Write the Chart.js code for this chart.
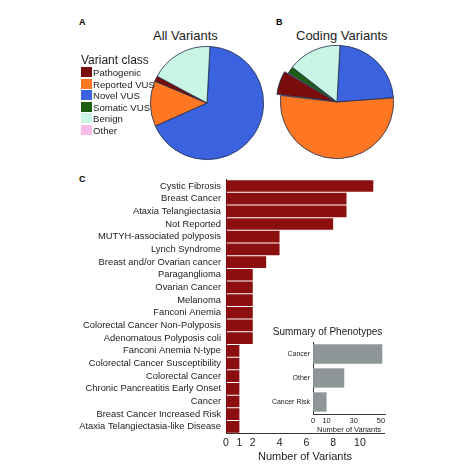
<!DOCTYPE html>
<html><head><meta charset="utf-8">
<script src="https://cdn.jsdelivr.net/npm/chart.js@4"></script>
<style>
body{margin:0;background:#fff;font-family:"Liberation Sans",Arial,sans-serif;}
.abs{position:absolute;white-space:nowrap;}
canvas{position:absolute;}
.lg{z-index:5;}
.lg div{font-size:9.6px;height:11.5px;line-height:11.5px;color:#222;}
.lg span{display:inline-block;width:11px;height:10px;margin-right:1px;vertical-align:-1px;}
</style></head><body>
<div class="abs" style="left:79px;top:17px;font-size:9px;font-weight:bold">A</div>
<div class="abs" style="left:276px;top:17px;font-size:9px;font-weight:bold">B</div>
<div class="abs" style="left:79px;top:174px;font-size:9px;font-weight:bold">C</div>
<div class="abs" style="left:153px;top:28px;font-size:13px;color:#222">All Variants</div>
<div class="abs" style="left:296px;top:28px;font-size:13px;color:#222">Coding Variants</div>
<canvas id="p1" width="130" height="130" style="left:142px;top:38px"></canvas>
<canvas id="p2" width="140" height="140" style="left:267px;top:32px"></canvas>
<div class="abs lg" id="lg" style="left:81px;top:53px"><div style="font-size:12px;height:14px;line-height:14px">Variant class</div></div>
<canvas id="bar" width="400" height="292" style="left:0;top:172px"></canvas>
<canvas id="ins" width="127" height="110" style="left:270px;top:324px"></canvas>
<script>
const classes=["Pathogenic","Reported VUS","Novel VUS","Somatic VUS","Benign","Other"];
const classColors=["#7b0c0c","#ff7722","#3b63e0","#1d5e14","#c8f5e4","#f7bde8"];
// pie slices in drawing order (clockwise from top)
const pieOrder=[2,1,0,3,4,5];
const allVariants=[1.5,13,67.5,0,18,0]; // by class
const codingVariants=[6.7,53,23,2,15.3,0];
const phenotypes=["Cystic Fibrosis","Breast Cancer","Ataxia Telangiectasia","Not Reported","MUTYH-associated polyposis","Lynch Syndrome","Breast and/or Ovarian cancer","Paraganglioma","Ovarian Cancer","Melanoma","Fanconi Anemia","Colorectal Cancer Non-Polyposis","Adenomatous Polyposis coli","Fanconi Anemia N-type","Colorectal Cancer Susceptibility","Colorectal Cancer","Chronic Pancreatitis Early Onset","Cancer","Breast Cancer Increased Risk","Ataxia Telangiectasia-like Disease"];
const phenoCounts=[11,9,9,8,4,4,3,2,2,2,2,2,2,1,1,1,1,1,1,1];
const xTicks=[0,1,2,4,6,8,10];
const sumCats=["Cancer","Other","Cancer Risk"];
const sumCounts=[51,23,10];
const sumTicks=[0,10,30,50];

const lg=document.getElementById('lg');
classes.forEach((c,i)=>{const d=document.createElement('div');d.innerHTML='<span style="background:'+classColors[i]+'"></span>'+c;lg.appendChild(d);});

function pie(id,vals,rot,offs){
  new Chart(document.getElementById(id),{type:'pie',
    data:{labels:pieOrder.map(i=>classes[i]),datasets:[{data:pieOrder.map(i=>vals[i]),
      backgroundColor:pieOrder.map(i=>classColors[i]),borderColor:'#1a2a4a',borderWidth:0.8,
      offset:pieOrder.map(i=>offs[i]||0)}]},
    options:{responsive:false,animation:false,rotation:rot,layout:{padding:8},
      plugins:{legend:{display:false},tooltip:{enabled:false}}}});
}
pie('p1',allVariants,3,{});
pie('p2',codingVariants,3,{0:10});

new Chart(document.getElementById('bar'),{type:'bar',
  data:{labels:phenotypes,datasets:[{data:phenoCounts,backgroundColor:'#8b0f0f',borderWidth:0,barPercentage:0.95,categoryPercentage:0.97}]},
  options:{indexAxis:'y',responsive:false,animation:false,layout:{padding:{top:6,right:16}},
    plugins:{legend:{display:false},tooltip:{enabled:false}},
    scales:{
      x:{min:0,max:11.8,afterBuildTicks:s=>{s.ticks=xTicks.map(v=>({value:v}));},
        grid:{display:false,drawTicks:true,tickLength:3,color:'#333'},border:{color:'#333',width:1},
        ticks:{color:'#222',font:{size:10.5,family:'Liberation Sans'},padding:1},
        title:{display:true,text:'Number of Variants',color:'#222',font:{size:11,family:'Liberation Sans'},padding:{top:0,bottom:0}}},
      y:{afterFit:s=>{s.width=226;},grid:{display:false,tickLength:3,color:'#333'},border:{color:'#333',width:1},
        ticks:{color:'#222',font:{size:9.4,family:'Liberation Sans'},padding:2,autoSkip:false}}}}});

new Chart(document.getElementById('ins'),{type:'bar',
  data:{labels:sumCats,datasets:[{data:sumCounts,backgroundColor:'#8f9698',borderWidth:0,barPercentage:0.85,categoryPercentage:0.95}]},
  options:{indexAxis:'y',responsive:false,animation:false,layout:{padding:{right:12}},
    plugins:{legend:{display:false},tooltip:{enabled:false},
      title:{display:true,text:'Summary of Phenotypes',color:'#222',font:{size:10,weight:'normal',family:'Liberation Sans'},padding:{top:2,bottom:4}}},
    scales:{
      x:{min:0,max:53,afterBuildTicks:s=>{s.ticks=sumTicks.map(v=>({value:v}));},
        grid:{display:false,tickLength:2,color:'#333'},border:{color:'#333'},
        ticks:{color:'#222',font:{size:7.5},padding:0},
        title:{display:true,text:'Number of Variants',color:'#222',font:{size:7.5},padding:0}},
      y:{afterFit:s=>{s.width=43;},grid:{display:false,tickLength:2,color:'#333'},border:{color:'#333'},
        ticks:{color:'#222',font:{size:7},padding:1}}}}});
</script></body></html>
